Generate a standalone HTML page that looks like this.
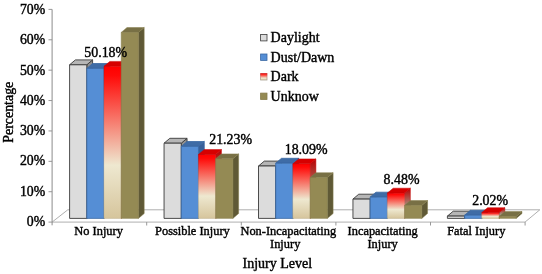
<!DOCTYPE html>
<html><head><meta charset="utf-8"><title>Injury Level by Lighting</title>
<style>html,body{margin:0;padding:0;background:#fff}body{width:542px;height:274px;overflow:hidden}</style></head>
<body>
<svg width="542" height="274" viewBox="0 0 542 274" style="display:block;font-family:'Liberation Serif','Times New Roman',serif" stroke-linecap="butt">
<defs>
<linearGradient id="rg" x1="0" y1="0" x2="0" y2="1">
<stop offset="0" stop-color="#ff0000"/>
<stop offset="0.06" stop-color="#ff0a08"/>
<stop offset="0.65" stop-color="#eee8d0"/>
<stop offset="1" stop-color="#d6c59c"/>
</linearGradient>
<linearGradient id="rgl" x1="0" y1="0" x2="0" y2="1">
<stop offset="0" stop-color="#ff0000"/>
<stop offset="0.35" stop-color="#f86a5c"/>
<stop offset="0.7" stop-color="#eee8d0"/>
<stop offset="1" stop-color="#e0d2ac"/>
</linearGradient>
<linearGradient id="rgls" x1="0" y1="0" x2="0" y2="1">
<stop offset="0" stop-color="#d02020"/>
<stop offset="0.5" stop-color="#c89088"/>
<stop offset="1" stop-color="#a8a090"/>
</linearGradient>
<linearGradient id="rgd" x1="0" y1="0" x2="0" y2="1">
<stop offset="0" stop-color="#b80000"/>
<stop offset="0.65" stop-color="#a59f8c"/>
<stop offset="1" stop-color="#8f8263"/>
</linearGradient>
<linearGradient id="rgs" x1="0" y1="0" x2="0" y2="1">
<stop offset="0" stop-color="#c80000"/>
<stop offset="0.65" stop-color="#d8ceb4"/>
<stop offset="1" stop-color="#b8a880"/>
</linearGradient>
</defs>
<style>text{stroke:#000;stroke-width:0.4px;paint-order:stroke}</style>
<rect width="542" height="274" fill="#fff"/>
<polygon points="52.1,222.1 525.0,222.1 539.8,209.8 67.8,209.8" fill="#fff" stroke="#a6a6a6" stroke-width="0.9" stroke-linejoin="round"/>
<line x1="52.1" y1="9.4" x2="52.1" y2="225.29999999999998" stroke="#8c8c8c" stroke-width="1"/>
<line x1="48.5" y1="222.10" x2="52.1" y2="222.10" stroke="#8c8c8c" stroke-width="0.9"/>
<text x="45.2" y="225.90" font-size="13.8" text-anchor="end" fill="#000">0%</text>
<line x1="48.5" y1="191.71" x2="52.1" y2="191.71" stroke="#8c8c8c" stroke-width="0.9"/>
<text x="45.2" y="195.63" font-size="13.8" text-anchor="end" fill="#000">10%</text>
<line x1="48.5" y1="161.33" x2="52.1" y2="161.33" stroke="#8c8c8c" stroke-width="0.9"/>
<text x="45.2" y="165.36" font-size="13.8" text-anchor="end" fill="#000">20%</text>
<line x1="48.5" y1="130.94" x2="52.1" y2="130.94" stroke="#8c8c8c" stroke-width="0.9"/>
<text x="45.2" y="135.09" font-size="13.8" text-anchor="end" fill="#000">30%</text>
<line x1="48.5" y1="100.56" x2="52.1" y2="100.56" stroke="#8c8c8c" stroke-width="0.9"/>
<text x="45.2" y="104.82" font-size="13.8" text-anchor="end" fill="#000">40%</text>
<line x1="48.5" y1="70.17" x2="52.1" y2="70.17" stroke="#8c8c8c" stroke-width="0.9"/>
<text x="45.2" y="74.55" font-size="13.8" text-anchor="end" fill="#000">50%</text>
<line x1="48.5" y1="39.79" x2="52.1" y2="39.79" stroke="#8c8c8c" stroke-width="0.9"/>
<text x="45.2" y="44.28" font-size="13.8" text-anchor="end" fill="#000">60%</text>
<line x1="48.5" y1="9.40" x2="52.1" y2="9.40" stroke="#8c8c8c" stroke-width="0.9"/>
<text x="45.2" y="14.01" font-size="13.8" text-anchor="end" fill="#000">70%</text>
<line x1="146.70" y1="222.1" x2="146.70" y2="225.5" stroke="#8c8c8c" stroke-width="0.9"/>
<line x1="241.30" y1="222.1" x2="241.30" y2="225.5" stroke="#8c8c8c" stroke-width="0.9"/>
<line x1="335.90" y1="222.1" x2="335.90" y2="225.5" stroke="#8c8c8c" stroke-width="0.9"/>
<line x1="430.50" y1="222.1" x2="430.50" y2="225.5" stroke="#8c8c8c" stroke-width="0.9"/>
<line x1="525.10" y1="222.1" x2="525.10" y2="225.5" stroke="#8c8c8c" stroke-width="0.9"/>
<polygon points="86.80,64.80 92.60,59.90 92.60,213.50 86.80,218.40" fill="#8f8f8f" stroke="#3a3a3a" stroke-width="0.9" stroke-linejoin="round"/>
<polygon points="69.60,64.80 75.40,59.90 92.60,59.90 86.80,64.80" fill="#b6b6b6" stroke="#3a3a3a" stroke-width="0.9" stroke-linejoin="round"/>
<rect x="69.60" y="64.80" width="17.2" height="153.60" fill="#dcdcdc" stroke="#3a3a3a" stroke-width="0.9" stroke-linejoin="round"/>
<polygon points="104.00,68.40 109.80,63.50 109.80,213.50 104.00,218.40" fill="#38609a" stroke="#3a68a3" stroke-width="0.8" stroke-linejoin="round"/>
<polygon points="86.80,68.40 92.60,63.50 109.80,63.50 104.00,68.40" fill="#3f6ca6" stroke="#3a68a3" stroke-width="0.8" stroke-linejoin="round"/>
<rect x="86.80" y="68.40" width="17.2" height="150.00" fill="#558ed5" stroke="#3a68a3" stroke-width="0.8" stroke-linejoin="round"/>
<polygon points="121.20,66.30 127.00,61.40 127.00,213.50 121.20,218.40" fill="url(#rgd)" stroke="#c80000" stroke-width="0.5" stroke-linejoin="round"/>
<polygon points="104.00,66.30 109.80,61.40 127.00,61.40 121.20,66.30" fill="#d60000" stroke="#c80000" stroke-width="0.5" stroke-linejoin="round"/>
<rect x="104.00" y="66.30" width="17.2" height="152.10" fill="url(#rg)" stroke="url(#rgs)" stroke-width="0.5" stroke-linejoin="round"/>
<polygon points="138.40,32.40 144.20,27.50 144.20,213.50 138.40,218.40" fill="#5f5936" stroke="#857c4b" stroke-width="0.5" stroke-linejoin="round"/>
<polygon points="121.20,32.40 127.00,27.50 144.20,27.50 138.40,32.40" fill="#787045" stroke="#857c4b" stroke-width="0.5" stroke-linejoin="round"/>
<rect x="121.20" y="32.40" width="17.2" height="186.00" fill="#948a54" stroke="#857c4b" stroke-width="0.5" stroke-linejoin="round"/>
<polygon points="181.25,143.20 187.05,138.30 187.05,213.50 181.25,218.40" fill="#8f8f8f" stroke="#3a3a3a" stroke-width="0.9" stroke-linejoin="round"/>
<polygon points="164.05,143.20 169.85,138.30 187.05,138.30 181.25,143.20" fill="#b6b6b6" stroke="#3a3a3a" stroke-width="0.9" stroke-linejoin="round"/>
<rect x="164.05" y="143.20" width="17.2" height="75.20" fill="#dcdcdc" stroke="#3a3a3a" stroke-width="0.9" stroke-linejoin="round"/>
<polygon points="198.45,146.40 204.25,141.50 204.25,213.50 198.45,218.40" fill="#38609a" stroke="#3a68a3" stroke-width="0.8" stroke-linejoin="round"/>
<polygon points="181.25,146.40 187.05,141.50 204.25,141.50 198.45,146.40" fill="#3f6ca6" stroke="#3a68a3" stroke-width="0.8" stroke-linejoin="round"/>
<rect x="181.25" y="146.40" width="17.2" height="72.00" fill="#558ed5" stroke="#3a68a3" stroke-width="0.8" stroke-linejoin="round"/>
<polygon points="215.65,154.50 221.45,149.60 221.45,213.50 215.65,218.40" fill="url(#rgd)" stroke="#c80000" stroke-width="0.5" stroke-linejoin="round"/>
<polygon points="198.45,154.50 204.25,149.60 221.45,149.60 215.65,154.50" fill="#d60000" stroke="#c80000" stroke-width="0.5" stroke-linejoin="round"/>
<rect x="198.45" y="154.50" width="17.2" height="63.90" fill="url(#rg)" stroke="url(#rgs)" stroke-width="0.5" stroke-linejoin="round"/>
<polygon points="232.85,158.80 238.65,153.90 238.65,213.50 232.85,218.40" fill="#5f5936" stroke="#857c4b" stroke-width="0.5" stroke-linejoin="round"/>
<polygon points="215.65,158.80 221.45,153.90 238.65,153.90 232.85,158.80" fill="#787045" stroke="#857c4b" stroke-width="0.5" stroke-linejoin="round"/>
<rect x="215.65" y="158.80" width="17.2" height="59.60" fill="#948a54" stroke="#857c4b" stroke-width="0.5" stroke-linejoin="round"/>
<polygon points="275.70,166.00 281.50,161.10 281.50,213.50 275.70,218.40" fill="#8f8f8f" stroke="#3a3a3a" stroke-width="0.9" stroke-linejoin="round"/>
<polygon points="258.50,166.00 264.30,161.10 281.50,161.10 275.70,166.00" fill="#b6b6b6" stroke="#3a3a3a" stroke-width="0.9" stroke-linejoin="round"/>
<rect x="258.50" y="166.00" width="17.2" height="52.40" fill="#dcdcdc" stroke="#3a3a3a" stroke-width="0.9" stroke-linejoin="round"/>
<polygon points="292.90,163.20 298.70,158.30 298.70,213.50 292.90,218.40" fill="#38609a" stroke="#3a68a3" stroke-width="0.8" stroke-linejoin="round"/>
<polygon points="275.70,163.20 281.50,158.30 298.70,158.30 292.90,163.20" fill="#3f6ca6" stroke="#3a68a3" stroke-width="0.8" stroke-linejoin="round"/>
<rect x="275.70" y="163.20" width="17.2" height="55.20" fill="#558ed5" stroke="#3a68a3" stroke-width="0.8" stroke-linejoin="round"/>
<polygon points="310.10,163.80 315.90,158.90 315.90,213.50 310.10,218.40" fill="url(#rgd)" stroke="#c80000" stroke-width="0.5" stroke-linejoin="round"/>
<polygon points="292.90,163.80 298.70,158.90 315.90,158.90 310.10,163.80" fill="#d60000" stroke="#c80000" stroke-width="0.5" stroke-linejoin="round"/>
<rect x="292.90" y="163.80" width="17.2" height="54.60" fill="url(#rg)" stroke="url(#rgs)" stroke-width="0.5" stroke-linejoin="round"/>
<polygon points="327.30,177.60 333.10,172.70 333.10,213.50 327.30,218.40" fill="#5f5936" stroke="#857c4b" stroke-width="0.5" stroke-linejoin="round"/>
<polygon points="310.10,177.60 315.90,172.70 333.10,172.70 327.30,177.60" fill="#787045" stroke="#857c4b" stroke-width="0.5" stroke-linejoin="round"/>
<rect x="310.10" y="177.60" width="17.2" height="40.80" fill="#948a54" stroke="#857c4b" stroke-width="0.5" stroke-linejoin="round"/>
<polygon points="370.15,199.10 375.95,194.20 375.95,213.50 370.15,218.40" fill="#8f8f8f" stroke="#3a3a3a" stroke-width="0.9" stroke-linejoin="round"/>
<polygon points="352.95,199.10 358.75,194.20 375.95,194.20 370.15,199.10" fill="#b6b6b6" stroke="#3a3a3a" stroke-width="0.9" stroke-linejoin="round"/>
<rect x="352.95" y="199.10" width="17.2" height="19.30" fill="#dcdcdc" stroke="#3a3a3a" stroke-width="0.9" stroke-linejoin="round"/>
<polygon points="387.35,197.10 393.15,192.20 393.15,213.50 387.35,218.40" fill="#38609a" stroke="#3a68a3" stroke-width="0.8" stroke-linejoin="round"/>
<polygon points="370.15,197.10 375.95,192.20 393.15,192.20 387.35,197.10" fill="#3f6ca6" stroke="#3a68a3" stroke-width="0.8" stroke-linejoin="round"/>
<rect x="370.15" y="197.10" width="17.2" height="21.30" fill="#558ed5" stroke="#3a68a3" stroke-width="0.8" stroke-linejoin="round"/>
<polygon points="404.55,193.10 410.35,188.20 410.35,213.50 404.55,218.40" fill="url(#rgd)" stroke="#c80000" stroke-width="0.5" stroke-linejoin="round"/>
<polygon points="387.35,193.10 393.15,188.20 410.35,188.20 404.55,193.10" fill="#d60000" stroke="#c80000" stroke-width="0.5" stroke-linejoin="round"/>
<rect x="387.35" y="193.10" width="17.2" height="25.30" fill="url(#rg)" stroke="url(#rgs)" stroke-width="0.5" stroke-linejoin="round"/>
<polygon points="421.75,205.40 427.55,200.50 427.55,213.50 421.75,218.40" fill="#5f5936" stroke="#857c4b" stroke-width="0.5" stroke-linejoin="round"/>
<polygon points="404.55,205.40 410.35,200.50 427.55,200.50 421.75,205.40" fill="#787045" stroke="#857c4b" stroke-width="0.5" stroke-linejoin="round"/>
<rect x="404.55" y="205.40" width="17.2" height="13.00" fill="#948a54" stroke="#857c4b" stroke-width="0.5" stroke-linejoin="round"/>
<polygon points="464.60,216.10 470.40,211.20 470.40,213.50 464.60,218.40" fill="#8f8f8f" stroke="#3a3a3a" stroke-width="0.9" stroke-linejoin="round"/>
<polygon points="447.40,216.10 453.20,211.20 470.40,211.20 464.60,216.10" fill="#b6b6b6" stroke="#3a3a3a" stroke-width="0.9" stroke-linejoin="round"/>
<rect x="447.40" y="216.10" width="17.2" height="2.30" fill="#dcdcdc" stroke="#3a3a3a" stroke-width="0.9" stroke-linejoin="round"/>
<polygon points="481.80,215.20 487.60,210.30 487.60,213.50 481.80,218.40" fill="#38609a" stroke="#3a68a3" stroke-width="0.8" stroke-linejoin="round"/>
<polygon points="464.60,215.20 470.40,210.30 487.60,210.30 481.80,215.20" fill="#3f6ca6" stroke="#3a68a3" stroke-width="0.8" stroke-linejoin="round"/>
<rect x="464.60" y="215.20" width="17.2" height="3.20" fill="#558ed5" stroke="#3a68a3" stroke-width="0.8" stroke-linejoin="round"/>
<polygon points="499.00,212.60 504.80,207.70 504.80,213.50 499.00,218.40" fill="url(#rgd)" stroke="#c80000" stroke-width="0.5" stroke-linejoin="round"/>
<polygon points="481.80,212.60 487.60,207.70 504.80,207.70 499.00,212.60" fill="#d60000" stroke="#c80000" stroke-width="0.5" stroke-linejoin="round"/>
<rect x="481.80" y="212.60" width="17.2" height="5.80" fill="url(#rg)" stroke="url(#rgs)" stroke-width="0.5" stroke-linejoin="round"/>
<polygon points="516.20,216.40 522.00,211.50 522.00,213.50 516.20,218.40" fill="#5f5936" stroke="#857c4b" stroke-width="0.5" stroke-linejoin="round"/>
<polygon points="499.00,216.40 504.80,211.50 522.00,211.50 516.20,216.40" fill="#787045" stroke="#857c4b" stroke-width="0.5" stroke-linejoin="round"/>
<rect x="499.00" y="216.40" width="17.2" height="2.00" fill="#948a54" stroke="#857c4b" stroke-width="0.5" stroke-linejoin="round"/>
<text x="84.3" y="56.900000000000006" font-size="13.9" fill="#000">50.18%</text>
<text x="209.2" y="144.2" font-size="13.9" fill="#000">21.23%</text>
<text x="284.7" y="154.2" font-size="13.9" fill="#000">18.09%</text>
<text x="383.6" y="183.7" font-size="13.9" fill="#000">8.48%</text>
<text x="472.2" y="204.7" font-size="13.9" fill="#000">2.02%</text>
<text x="98.6" y="234.70" font-size="12.4" text-anchor="middle" fill="#000">No Injury</text>
<text x="192.4" y="234.70" font-size="12.4" text-anchor="middle" fill="#000">Possible Injury</text>
<text x="288.3" y="235.40" font-size="12.4" text-anchor="middle" fill="#000">Non-Incapacitating</text>
<text x="285.2" y="247.60" font-size="12.4" text-anchor="middle" fill="#000">Injury</text>
<text x="382.7" y="235.40" font-size="12.4" text-anchor="middle" fill="#000">Incapacitating</text>
<text x="382.6" y="247.60" font-size="12.4" text-anchor="middle" fill="#000">Injury</text>
<text x="476.3" y="235.00" font-size="12.4" text-anchor="middle" fill="#000">Fatal Injury</text>
<text x="277.3" y="267.6" font-size="14" text-anchor="middle" fill="#000">Injury Level</text>
<text transform="translate(12.7,112.2) rotate(-90)" font-size="13.9" text-anchor="middle" fill="#000">Percentage</text>
<rect x="260.6" y="34.50" width="6.4" height="6.4" fill="#dcdcdc" stroke="#3a3a3a" stroke-width="0.8"/>
<text x="270.6" y="42.0" font-size="14" fill="#000">Daylight</text>
<rect x="260.6" y="54.00" width="6.4" height="6.4" fill="#558ed5" stroke="#3a68a3" stroke-width="0.8"/>
<text x="270.6" y="61.5" font-size="14" fill="#000">Dust/Dawn</text>
<rect x="260.6" y="73.60" width="6.4" height="6.4" fill="url(#rgl)" stroke="url(#rgls)" stroke-width="0.8"/>
<text x="270.6" y="81.1" font-size="14" fill="#000">Dark</text>
<rect x="260.6" y="93.10" width="6.4" height="6.4" fill="#948a54" stroke="#857c4b" stroke-width="0.8"/>
<text x="270.6" y="100.6" font-size="14" fill="#000">Unknow</text>
</svg>
</body></html>
